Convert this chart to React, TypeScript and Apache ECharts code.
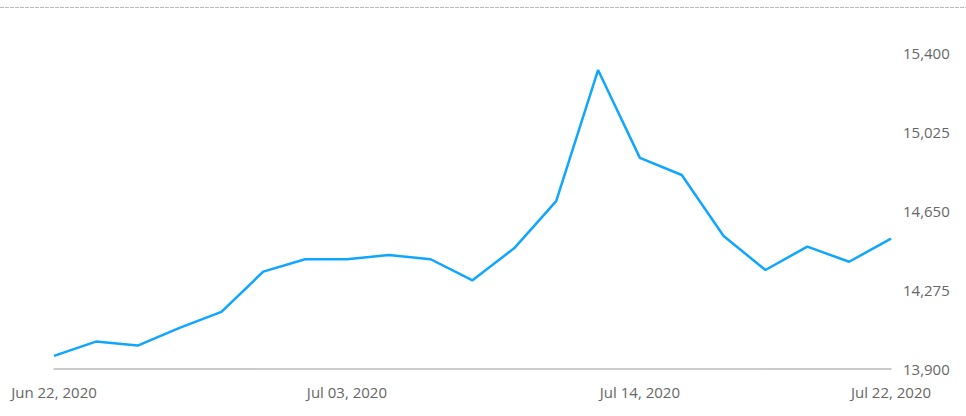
import React, { useEffect, useRef } from "react";
import * as echarts from "echarts";

const dates = [
  "Jun 22, 2020", "Jun 23, 2020", "Jun 25, 2020", "Jun 26, 2020", "Jun 29, 2020",
  "Jun 30, 2020", "Jul 01, 2020", "Jul 03, 2020", "Jul 06, 2020", "Jul 07, 2020",
  "Jul 08, 2020", "Jul 09, 2020", "Jul 10, 2020", "Jul 13, 2020", "Jul 14, 2020",
  "Jul 15, 2020", "Jul 16, 2020", "Jul 17, 2020", "Jul 20, 2020", "Jul 21, 2020",
  "Jul 22, 2020",
];

const values = [
  13962, 14030, 14011, 14095, 14171, 14362, 14421, 14421, 14441, 14421,
  14321, 14474, 14697, 15319, 14902, 14821, 14531, 14370, 14481, 14409,
  14519,
];

const shownLabels = [0, 7, 14, 20];

const App = () => {
  const chartContainer = useRef<HTMLDivElement>(null);

  useEffect(() => {
    if (!chartContainer.current) return;
    const chart = echarts.init(chartContainer.current, null, { renderer: "svg" });

    const option: echarts.EChartsOption = {
      animation: false,
      textStyle: { fontFamily: "Open Sans" },
      grid: { left: 54, right: 75, top: 53, bottom: 47 },
      graphic: [
        {
          type: "line",
          shape: { x1: 0, y1: 7.5, x2: 966, y2: 7.5 },
          style: { stroke: "#bbbbbb", lineWidth: 1, lineDash: [4, 1] },
        },
      ],
      xAxis: {
        type: "category",
        data: dates,
        boundaryGap: false,
        axisLine: { lineStyle: { color: "#bbbbbb", width: 1.5 } },
        axisTick: { show: false },
        axisLabel: {
          color: "#666666",
          fontSize: 15,
          margin: 15,
          interval: (i: number) => shownLabels.includes(i),
          showMinLabel: true,
          showMaxLabel: true,
        },
        splitLine: { show: false },
      },
      yAxis: {
        type: "value",
        position: "right",
        min: 13900,
        max: 15400,
        interval: 375,
        axisLine: { show: false },
        axisTick: { show: false },
        splitLine: { show: false },
        axisLabel: {
          color: "#666666",
          fontSize: 15,
          margin: 12,
          formatter: (v: number) => v.toLocaleString("en-US"),
        },
      },
      series: [
        {
          type: "line",
          data: values,
          showSymbol: false,
          lineStyle: { color: "#0fa6ff", width: 2.5 },
          itemStyle: { color: "#0fa6ff" },
        },
      ],
    };

    chart.setOption(option);
    return () => chart.dispose();
  }, []);

  return (
    <div
      ref={chartContainer}
      style={{ position: "absolute", left: 0, top: 0, width: 966, height: 416 }}
    />
  );
};

export default App;
